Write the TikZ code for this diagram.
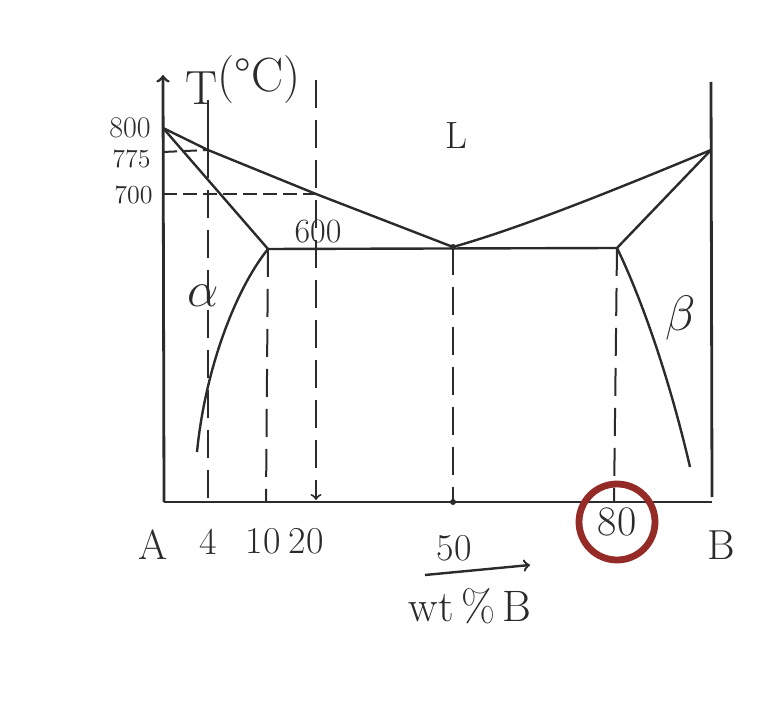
\documentclass[tikz,border=0pt]{standalone}
\usepackage{fontspec}
\begin{document}
\begin{tikzpicture}[x=0.5pt,y=-0.5pt]
  \definecolor{kInk}{rgb}{0.17,0.17,0.17}
  \definecolor{kRed}{rgb}{0.58,0.17,0.15}
  \tikzset{phase/.style={color=kInk,line width=1.2pt,line join=round},
           guide/.style={color=kInk,line width=1pt,dash pattern=on 14pt off 6pt},
           level/.style={color=kInk,line width=1pt,dash pattern=on 7pt off 3pt},
           tick/.style={color=kInk,inner sep=0pt,font=\fontsize{19}{21}\selectfont},
           temp/.style={color=kInk,inner sep=0pt,anchor=east,font=\fontsize{13}{15}\selectfont}}
  \useasboundingbox (0,0) rectangle (780,704);

  % corners of the frame
  \coordinate (o)    at (164,502);
  \coordinate (ytop) at (163,75);
  \coordinate (xend) at (712,502);
  \coordinate (Btop) at (711,82);
  \coordinate (Bbot) at (712,497);

  % points of the diagram
  \coordinate (mA)   at (163,128);
  \coordinate (mB)   at (711,150);
  \coordinate (eu)   at (453,247);
  \coordinate (aMax) at (268,249);
  \coordinate (bMax) at (617,248);
  \coordinate (p775) at (208,150);
  \coordinate (p700) at (316,194);
  \coordinate (aEnd) at (197,452);
  \coordinate (bEnd) at (690,467);

  % feet and heads of the verticals
  \coordinate (t4)  at (208,100);
  \coordinate (b4)  at (208,510);
  \coordinate (b10) at (266,502);
  \coordinate (t20) at (316,80);
  \coordinate (b20) at (316,500);
  \coordinate (b50) at (453,502);
  \coordinate (b80) at (614,502);
  \coordinate (y775) at (163,152);
  \coordinate (y700) at (163,194);

  % axes
  \draw[phase,line width=1.4pt,->] (o) -- (ytop);
  \draw[phase,line width=1.4pt] (o) -- (xend);
  \draw[phase,line width=1.4pt] (Btop) -- (Bbot);

  % liquidus, solidus, solvus
  \draw[phase] (mA) -- (p775) -- (p700) -- (eu);
  \draw[phase] (mA) -- (aMax);
  \draw[phase] (aMax) -- (bMax);
  \draw[phase] (eu) .. controls (520,228) and (610,192) .. (mB);
  \draw[phase] (mB) -- (bMax);
  \draw[phase] (aMax) .. controls (235,290) and (205,370) .. (aEnd);
  \draw[phase] (bMax) .. controls (635,285) and (665,360) .. (bEnd);
  \fill[kInk] (eu) circle (3);
  \fill[kInk] (b50) circle (3);

  % compositions
  \draw[phase,line width=1pt] (t4) -- (p775);
  \draw[guide] (p775) -- (b4);
  \draw[guide,->] (t20) -- (b20);
  \draw[guide] (aMax) -- (b10);
  \draw[guide] (eu) -- (b50);
  \draw[guide] (bMax) -- (b80);
  \draw[level] (y775) -- (p775);
  \draw[level] (y700) -- (p700);

  % labels
  \node[color=kInk,inner sep=0pt,font=\fontsize{24}{26}\selectfont] (Tlab) at (243,80) {T\raisebox{0.6ex}{(°C)}};
  \node[temp,font=\fontsize{15}{17}\selectfont] (t800) at (151,128) {800};
  \node[temp] (t775) at (151,159) {775};
  \node[temp] (t700) at (153,195) {700};
  \node[tick,font=\fontsize{17}{19}\selectfont] (l600) at (318,232) {600};
  \node[color=kInk,font=\fontsize{19}{21}\selectfont] (Lreg) at (456,136) {L};
  \node[color=kInk,font=\fontsize{24}{26}\selectfont] (areg) at (203,296) {$\alpha$};
  \node[color=kInk,font=\fontsize{24}{26}\selectfont] (breg) at (681,318) {$\beta$};

  \node[tick,font=\fontsize{21}{23}\selectfont] (xA) at (153,545) {A};
  \node[tick] (x4)  at (208,542) {4};
  \node[tick] (x10) at (263,541) {10};
  \node[tick] (x20) at (306,541) {20};
  \node[tick] (x50) at (454,548) {50};
  \node[tick,font=\fontsize{21}{23}\selectfont,circle,draw=kRed,line width=3.4pt,minimum size=38pt] (x80) at (617,522) {80};
  \node[tick,font=\fontsize{21}{23}\selectfont] (xB) at (721,545) {B};

  \coordinate (wl) at (425,575);
  \coordinate (wr) at (530,565);
  \draw[phase,->] (wl) -- (wr);
  \node[color=kInk,font=\fontsize{22}{24}\selectfont] (wt) at (470,606) {wt\,\%\,B};

\end{tikzpicture}
\end{document}
